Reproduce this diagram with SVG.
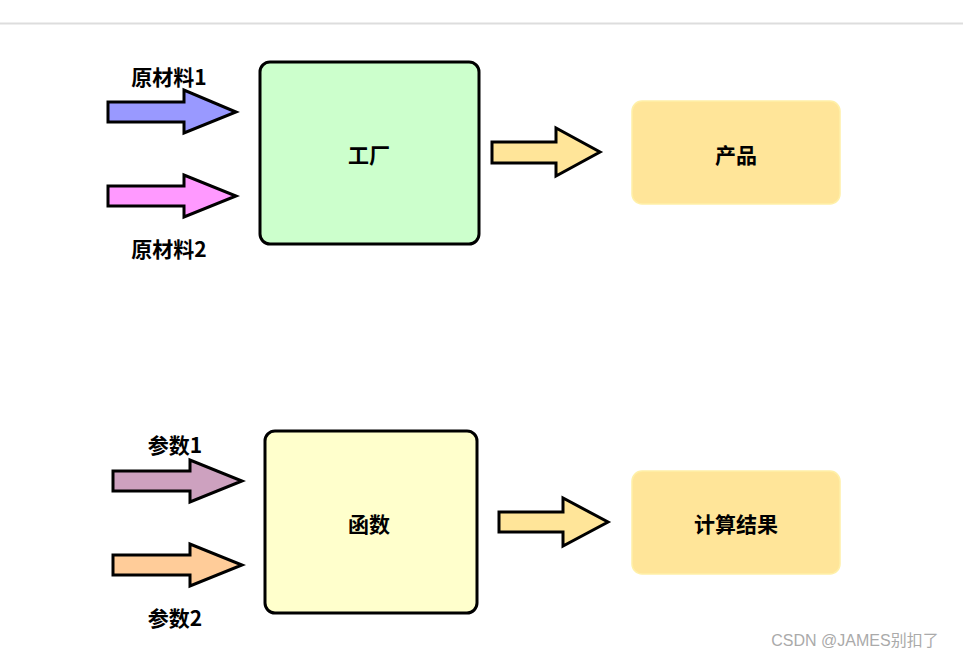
<svg xmlns="http://www.w3.org/2000/svg" width="963" height="659" viewBox="0 0 963 659">
<style>
text{font-family:"Noto Sans CJK SC","Noto Sans",sans-serif;font-weight:bold;font-size:21px;fill:#000;text-anchor:middle;dominant-baseline:central}
.arr{stroke:#000;stroke-width:3;stroke-linejoin:miter}
.box{stroke:#000;stroke-width:3}
.res{fill:#ffe599;stroke:#fff0a8;stroke-width:1.5}
</style>
<rect width="963" height="659" fill="#fff"/>
<line x1="0" y1="23.5" x2="963" y2="23.5" stroke="#ddd" stroke-width="2"/>
<g id="connectors">
<path class="arr" fill="#9999ff" d="M108,102H184V90L236,112L184,133V122H108Z"/>
<path class="arr" fill="#ff99ff" d="M108,186H184V175L236,196L184,217V206H108Z"/>
<path class="arr" fill="#ffe599" d="M492,142H556V128L600,152L556,176V163H492Z"/>
<path class="arr" fill="#cda1bf" d="M113,471H190V460L242,481L190,502V491H113Z"/>
<path class="arr" fill="#ffcc99" d="M113,555H190V544L242,565L190,586V575H113Z"/>
<path class="arr" fill="#ffe599" d="M499,512H563V498L608,522L563,546V532H499Z"/>
</g>
<g id="label-raw1"><text x="169" y="76">原材料1</text></g>
<g id="label-raw2"><text x="169" y="248">原材料2</text></g>
<g id="factory"><rect class="box" x="260" y="62" width="219" height="182" rx="10" fill="#ccffcc"/><text x="369" y="154">工厂</text></g>
<g id="product"><rect class="res" x="632" y="101" width="208" height="103" rx="10"/><text x="736" y="154">产品</text></g>
<g id="label-p1"><text x="175" y="444">参数1</text></g>
<g id="label-p2"><text x="175" y="617">参数2</text></g>
<g id="function"><rect class="box" x="265" y="431" width="212" height="182" rx="10" fill="#ffffcc"/><text x="369" y="523">函数</text></g>
<g id="result"><rect class="res" x="632" y="471" width="208" height="103" rx="10"/><text x="736" y="523">计算结果</text></g>
<text x="855" y="640" style="font-weight:normal;font-size:16px;fill:#aaa;font-family:'Liberation Sans','Noto Sans CJK SC',sans-serif">CSDN @JAMES别扣了</text>
</svg>
